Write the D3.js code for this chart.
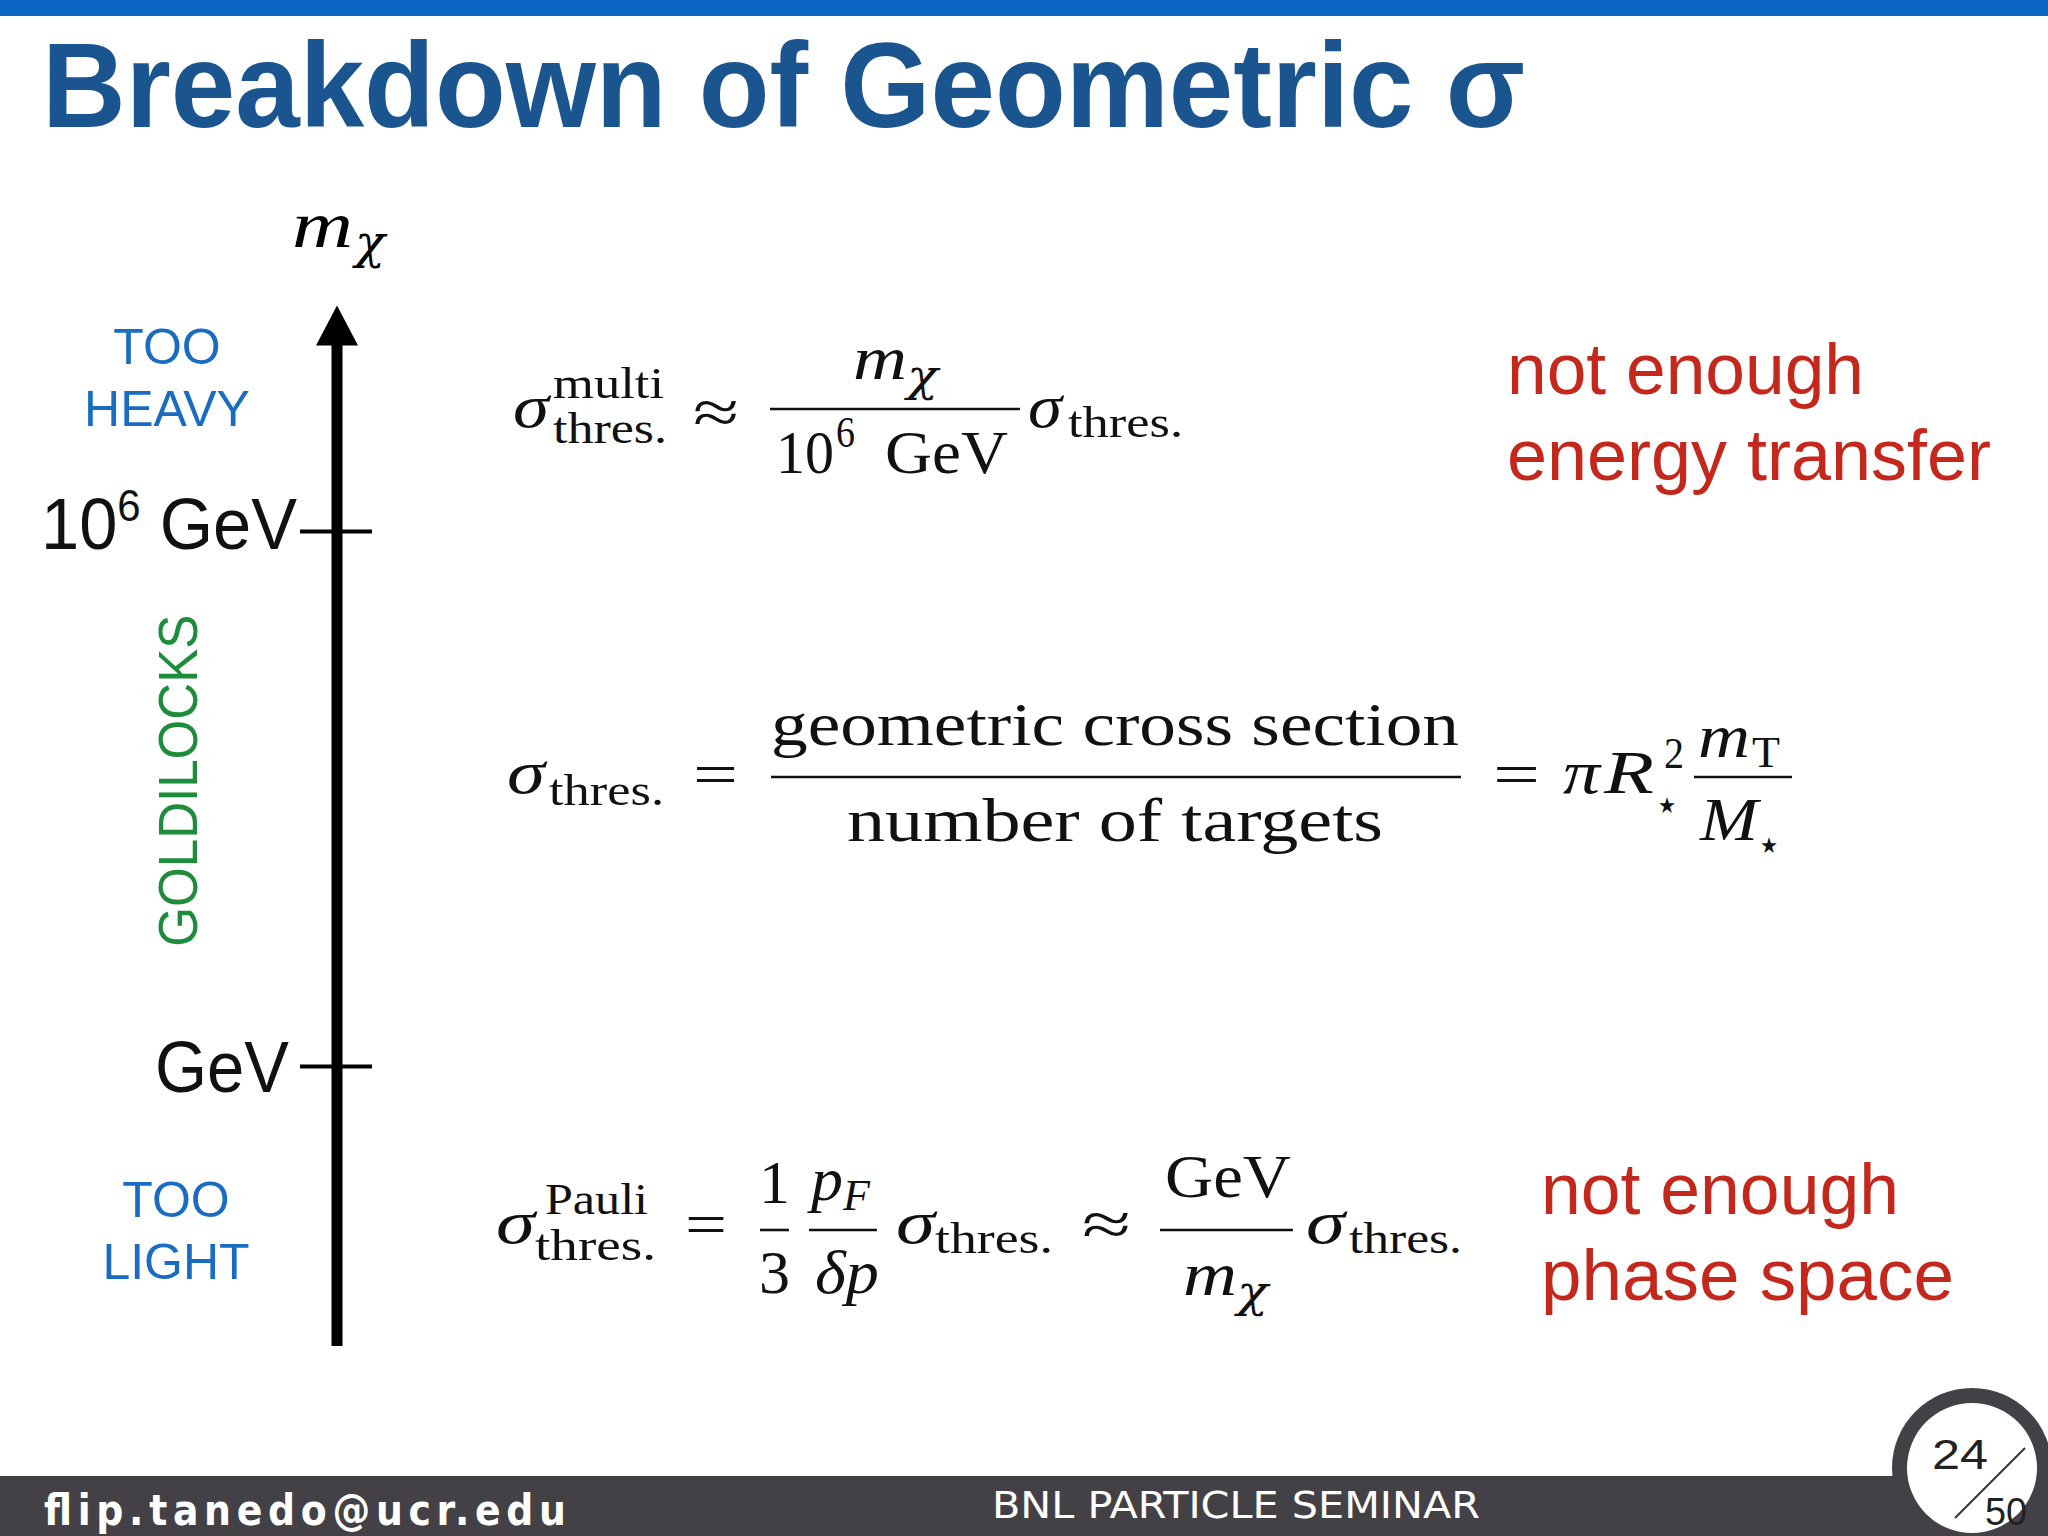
<!DOCTYPE html>
<html>
<head>
<meta charset="utf-8">
<script src="https://cdn.jsdelivr.net/npm/d3@7"></script>
<style>
  html, body { margin: 0; padding: 0; background: #ffffff; }
  svg { display: block; }
</style>
</head>
<body>
<div id="chart"></div>
<script>
// ---------------- data ----------------
const slideTitle = "Breakdown of Geometric σ";
const axisExtentGeV = [Math.pow(10, -3.14), Math.pow(10, 8.53)]; // bottom, top of the mass arrow
const tickValuesGeV = [1, 1e6];
const tickLabels = ["GeV", "10^6 GeV"];
const regionNames = [["TOO", "HEAVY"], ["GOLDILOCKS"], ["TOO", "LIGHT"]];
const regionMassGeV = [Math.pow(10, 7.73), Math.pow(10, 3.2), Math.pow(10, -1.84)];
const verdictLines = [["not enough", "energy transfer"], ["not enough", "phase space"]];
const footerEmail = "flip.tanedo@ucr.edu";
const footerTalk = "BNL PARTICLE SEMINAR";
const pageNumber = ["24", "50"];

// ---------------- styles ----------------
const W = 2048, H = 1536;
const colors = {
  topBar: "#0a66c2", title: "#1b5590", ink: "#111111",
  heavy: "#1a6bc2", goldilocks: "#1d8d3b", light: "#1a6bc2",
  verdict: "#c4281c", footer: "#434145"
};
const regionColor = ["heavy", "goldilocks", "light"];
const sans = "'Liberation Sans', Arial, Helvetica, sans-serif";
const serif = "'Liberation Serif', 'Times New Roman', 'DejaVu Serif', serif";
const greekSerif = "'DejaVu Serif', 'Liberation Serif', serif";

const svg = d3.select("#chart").append("svg")
  .attr("width", W).attr("height", H).attr("viewBox", `0 0 ${W} ${H}`);

svg.append("rect").attr("width", W).attr("height", H).attr("fill", "#fff");
svg.append("rect").attr("x", 0).attr("y", 0).attr("width", W).attr("height", 16).attr("fill", colors.topBar);

// title
svg.append("text").attr("x", 42).attr("y", 127)
  .attr("font-family", sans).attr("font-weight", "bold").attr("font-size", 120)
  .attr("fill", colors.title)
  .attr("textLength", 1483).attr("lengthAdjust", "spacingAndGlyphs")
  .text(slideTitle);

// ---------------- mass axis ----------------
const axisX = 337;
const y = d3.scaleLog().domain([1, 1e6]).range([1066, 531]);
const headLen = 40, headHalf = 21;

svg.append("line")
  .attr("x1", axisX).attr("x2", axisX)
  .attr("y1", y(axisExtentGeV[0]))
  .attr("y2", y(axisExtentGeV[1]) + headLen - 2)
  .attr("stroke", "#000").attr("stroke-width", 11);
const tipY = y(axisExtentGeV[1]);
svg.append("path")
  .attr("d", d3.line()([[axisX, tipY], [axisX + headHalf, tipY + headLen], [axisX - headHalf, tipY + headLen]]) + "Z")
  .attr("fill", "#000");

const axisG = svg.append("g").attr("transform", `translate(${axisX + 35},0)`)
  .call(d3.axisLeft(y).tickValues(tickValuesGeV).tickSizeInner(72).tickSizeOuter(0).tickPadding(3)
    .tickFormat((d, i) => tickLabels[i]));
axisG.select(".domain").remove();
axisG.selectAll(".tick line").attr("stroke", "#000").attr("stroke-width", 4);
axisG.selectAll(".tick text")
  .attr("font-family", sans).attr("font-size", 72).attr("fill", colors.ink)
  .attr("dy", "0.36em")
  .each(function () {
    const el = d3.select(this);
    const s = el.text();
    if (s.includes("^")) {
      const m = s.match(/^(\d+)\^(\d+)(.*)$/);
      el.text(null).attr("dy", "0.24em");
      el.append("tspan").text(m[1]);
      el.append("tspan").attr("font-size", 44).attr("dy", -28).text(m[2]);
      el.append("tspan").attr("dy", 28).text(m[3]);
      el.attr("textLength", 256).attr("lengthAdjust", "spacingAndGlyphs");
    } else {
      el.attr("x", -83).attr("textLength", 134).attr("lengthAdjust", "spacingAndGlyphs");
    }
  });

// axis title m_chi
const axTitle = svg.append("g");
axTitle.append("text").attr("x", 292).attr("y", 247)
  .attr("font-family", serif).attr("font-style", "italic").attr("font-size", 66)
  .attr("textLength", 61).attr("lengthAdjust", "spacingAndGlyphs").text("m");
axTitle.append("text").attr("x", 355).attr("y", 258)
  .attr("font-family", greekSerif).attr("font-style", "italic").attr("font-size", 46)
  .attr("textLength", 30).attr("lengthAdjust", "spacingAndGlyphs").text("χ");

// region labels
regionNames.forEach((lines, i) => {
  const cy = y(regionMassGeV[i]);
  if (lines.length === 1) {
    svg.append("text")
      .attr("transform", `translate(197,${cy}) rotate(-90)`)
      .attr("text-anchor", "middle")
      .attr("font-family", sans).attr("font-size", 55)
      .attr("fill", colors[regionColor[i]])
      .attr("textLength", 332).attr("lengthAdjust", "spacingAndGlyphs")
      .text(lines[0]);
  } else {
    const lh = 62;
    lines.forEach((ln, j) => {
      svg.append("text")
        .attr("x", i === 0 ? 167 : 176).attr("y", cy - (lines.length - 1) * lh / 2 + 18 + j * lh)
        .attr("text-anchor", "middle")
        .attr("font-family", sans).attr("font-size", 50)
        .attr("fill", colors[regionColor[i]])
        .text(ln);
    });
  }
});

// ---------------- equations ----------------
const eqG = svg.append("g").attr("fill", colors.ink);
function mt(str, x, yb, size, opt) {
  opt = opt || {};
  const t = eqG.append("text").attr("x", x).attr("y", yb)
    .attr("font-family", opt.font || serif).attr("font-size", size)
    .attr("font-style", opt.italic ? "italic" : "normal")
    .attr("text-anchor", opt.anchor || "start")
    .text(str);
  if (opt.w) t.attr("textLength", opt.w).attr("lengthAdjust", "spacingAndGlyphs");
  return t;
}
function bar(x1, x2, yy) {
  eqG.append("line").attr("x1", x1).attr("x2", x2).attr("y1", yy).attr("y2", yy)
    .attr("stroke", colors.ink).attr("stroke-width", 2.6);
}
const M = 62, S = 44;
const star = "★";
const starFont = "'DejaVu Sans', sans-serif";

// equation 1
mt("σ", 513, 427, M, { italic: true, w: 36 });
mt("multi", 553, 398, S, { w: 111 });
mt("thres.", 553, 443, S, { w: 114 });
mt("≈", 693, 433, M, { w: 46 });
bar(770, 1020, 409);
mt("m", 853, 379, M, { italic: true, w: 54 });
mt("χ", 907, 391, S, { italic: true, w: 31, font: greekSerif });
mt("10", 776, 473, M, { w: 58 });
mt("6", 836, 447, S, { w: 19 });
mt("GeV", 885, 473, M, { w: 123 });
mt("σ", 1028, 427, M, { italic: true, w: 34 });
mt("thres.", 1068, 437, S, { w: 115 });

// equation 2
mt("σ", 507, 793, M, { italic: true, w: 38 });
mt("thres.", 549, 805, S, { w: 115 });
mt("=", 693, 795, M, { w: 45 });
bar(771, 1461, 777);
mt("geometric cross section", 771, 745, M, { w: 688 });
mt("number of targets", 847, 841, M, { w: 536 });
mt("=", 1493, 795, M, { w: 47 });
mt("π", 1563, 793, M, { italic: true, w: 37 });
mt("R", 1604, 793, M, { italic: true, w: 50 });
mt("2", 1664, 768, S, { w: 20 });
mt(star, 1658, 813, 22, { font: starFont, w: 18 });
bar(1694, 1792, 777);
mt("m", 1698, 757, M, { italic: true, w: 52 });
mt("T", 1752, 767, S, { w: 28 });
mt("M", 1700, 840, M, { italic: true, w: 58 });
mt(star, 1760, 853, 22, { font: starFont, w: 18 });

// equation 3
mt("σ", 496, 1243, M, { italic: true, w: 39 });
mt("Pauli", 545, 1214, S, { w: 103 });
mt("thres.", 535, 1260, S, { w: 121 });
mt("=", 685, 1245, M, { w: 42 });
bar(760, 789, 1230);
mt("1", 774.5, 1203, M, { anchor: "middle" });
mt("3", 774.5, 1293, M, { anchor: "middle" });
bar(809, 877, 1230);
mt("p", 811, 1200, M, { italic: true, w: 32 });
mt("F", 843, 1210, S, { italic: true, w: 27 });
mt("δp", 815, 1293, M, { italic: true, w: 64 });
mt("σ", 896, 1243, M, { italic: true, w: 39 });
mt("thres.", 935, 1253, S, { w: 118 });
mt("≈", 1082, 1245, M, { w: 49 });
bar(1160, 1293, 1230);
mt("GeV", 1165, 1197, M, { w: 126 });
mt("m", 1183, 1295, M, { italic: true, w: 54 });
mt("χ", 1237, 1307, S, { italic: true, w: 31, font: greekSerif });
mt("σ", 1306, 1243, M, { italic: true, w: 39 });
mt("thres.", 1349, 1253, S, { w: 113 });

// ---------------- verdicts ----------------
const verdictAnchor = [{ x: 1507, y: 394 }, { x: 1541, y: 1214 }];
const verdictWidths = [[357, 484], [358, 413]];
verdictLines.forEach((lines, i) => {
  lines.forEach((ln, j) => {
    svg.append("text")
      .attr("x", verdictAnchor[i].x).attr("y", verdictAnchor[i].y + j * 86)
      .attr("font-family", sans).attr("font-size", 72)
      .attr("fill", colors.verdict)
      .attr("textLength", verdictWidths[i][j]).attr("lengthAdjust", "spacingAndGlyphs")
      .text(ln);
  });
});

// ---------------- footer ----------------
svg.append("rect").attr("x", 0).attr("y", 1476).attr("width", W).attr("height", H - 1476)
  .attr("fill", colors.footer);
svg.append("text").attr("x", 44).attr("y", 1525)
  .attr("font-family", "'DejaVu Sans Condensed', 'DejaVu Sans', sans-serif")
  .attr("font-weight", "bold").attr("font-size", 42).attr("fill", "#fff")
  .attr("textLength", 522).attr("lengthAdjust", "spacing")
  .text(footerEmail);
svg.append("text").attr("x", 992).attr("y", 1518)
  .attr("font-family", "'DejaVu Sans Condensed', 'DejaVu Sans', sans-serif")
  .attr("font-weight", "300").attr("font-size", 37).attr("fill", "#fff")
  .attr("textLength", 488).attr("lengthAdjust", "spacingAndGlyphs")
  .text(footerTalk);

// page badge
svg.append("circle").attr("cx", 1972).attr("cy", 1468).attr("r", 80).attr("fill", colors.footer);
svg.append("circle").attr("cx", 1972).attr("cy", 1468).attr("r", 65).attr("fill", "#fff");
svg.append("text").attr("x", 1932).attr("y", 1469)
  .attr("font-family", sans).attr("font-size", 43).attr("fill", "#222")
  .attr("textLength", 56).attr("lengthAdjust", "spacingAndGlyphs").text(pageNumber[0]);
svg.append("text").attr("x", 1985).attr("y", 1525)
  .attr("font-family", sans).attr("font-size", 39).attr("fill", "#222")
  .attr("textLength", 42).attr("lengthAdjust", "spacingAndGlyphs").text(pageNumber[1]);
svg.append("line").attr("x1", 1955).attr("y1", 1518).attr("x2", 2025).attr("y2", 1448)
  .attr("stroke", "#333").attr("stroke-width", 2);
</script>
</body>
</html>
